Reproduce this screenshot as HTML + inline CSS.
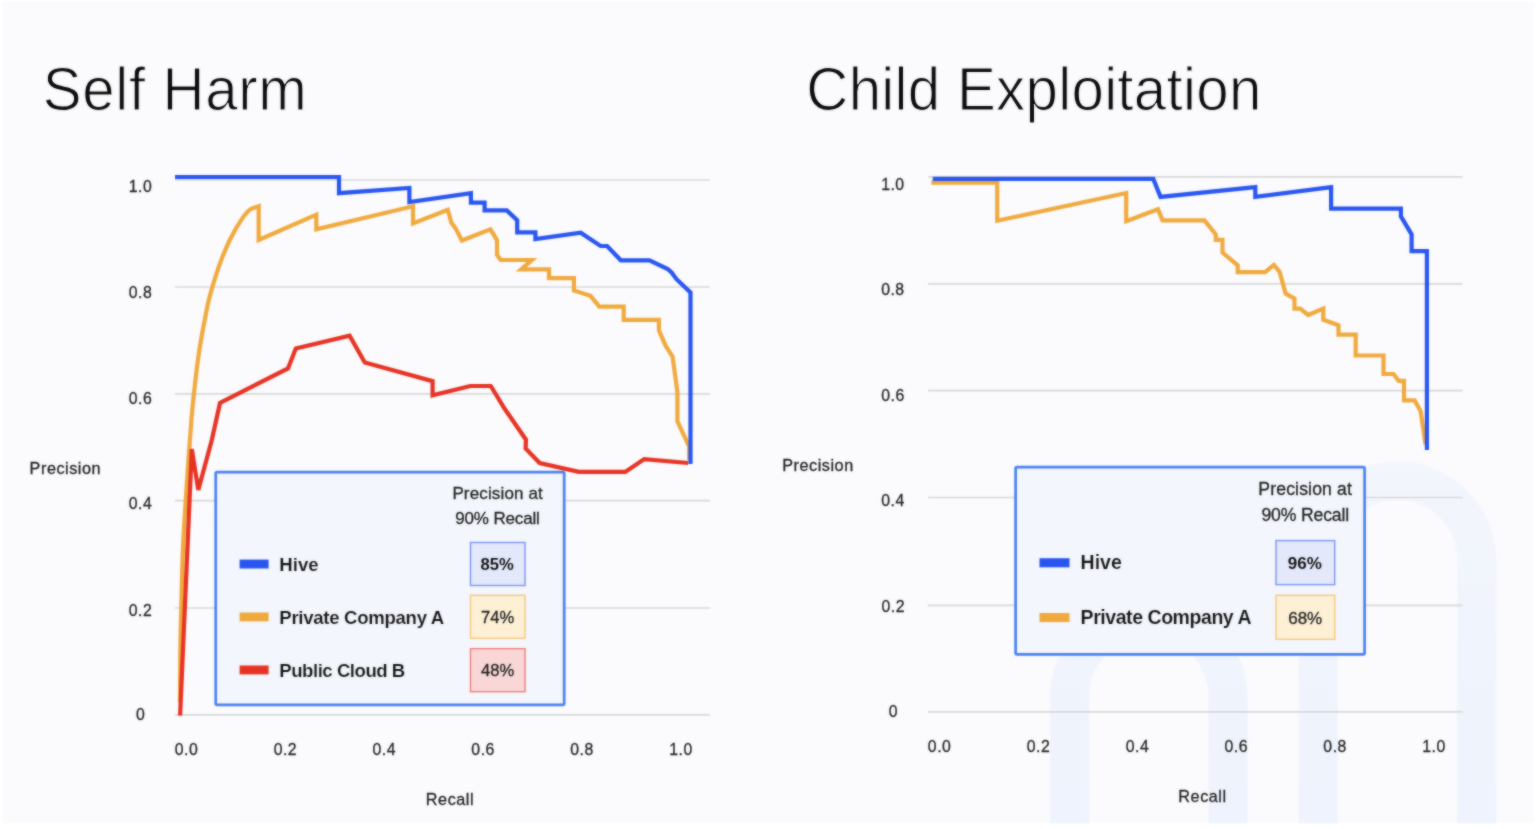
<!DOCTYPE html>
<html lang="en">
<head>
<meta charset="utf-8">
<title>Precision / Recall – Self Harm &amp; Child Exploitation</title>
<style>
  html, body { margin: 0; padding: 0; background: #ffffff; }
  body { width: 1536px; height: 829px; overflow: hidden; position: relative;
         font-family: "Liberation Sans", sans-serif; }
  svg { position: absolute; left: 0; top: 0; display: block; }
  text { font-family: "Liberation Sans", sans-serif; fill: #262626; }
  .title { font-size: 61px; fill: #0a0a0a; stroke: #fbfbfe; stroke-width: 1.1px; paint-order: fill stroke; }
  .ax { font-size: 15.8px; fill: #1e1e1e; stroke: #1e1e1e; stroke-width: 0.3px; letter-spacing: 0.5px; }
  .axl { font-size: 16.2px; fill: #1e1e1e; stroke: #1e1e1e; stroke-width: 0.3px; letter-spacing: 0.55px; }
  .hdr { font-size: 17px; fill: #1e1e1e; stroke: #1e1e1e; stroke-width: 0.3px; letter-spacing: 0.15px; }
  .name { font-size: 18.6px; font-weight: bold; fill: #111; stroke: #f3f6fc; stroke-width: 0.15px; paint-order: fill stroke; }
  .val { font-size: 16.6px; fill: #1e1e1e; stroke: #1e1e1e; stroke-width: 0.3px; }
  .valb { font-size: 16.6px; font-weight: bold; fill: #111; }
  .grid line { stroke: #d8d8d8; stroke-width: 1.7; }
  .ln { fill: none; stroke-width: 4.2; stroke-linejoin: miter; stroke-linecap: butt; }
  .blue { stroke: #2855f0; }
  .orange { stroke: #f0a93c; }
  .red { stroke: #e63222; }
</style>
</head>
<body>
<svg width="1536" height="829" viewBox="0 0 1536 829">
  <filter id="soft" x="0" y="0" width="1536" height="829" filterUnits="userSpaceOnUse" color-interpolation-filters="sRGB">
    <feGaussianBlur in="SourceGraphic" stdDeviation="0.8" result="b"/>
    <feComposite in="SourceGraphic" in2="b" operator="arithmetic" k1="0" k2="0.45" k3="0.55" k4="0"/>
  </filter>
  <g filter="url(#soft)">
  <!-- slide background -->
  <rect x="2" y="1" width="1532.5" height="822.3" fill="#fbfbfe"/>

  <!-- watermark arches -->
  <defs>
    <linearGradient id="archg" gradientUnits="userSpaceOnUse" x1="0" y1="460" x2="0" y2="829">
      <stop offset="0" stop-color="#f3f6fc"/>
      <stop offset="0.55" stop-color="#f0f4fc"/>
      <stop offset="1" stop-color="#eef3fd"/>
    </linearGradient>
  </defs>
  <g fill="none" stroke="url(#archg)" stroke-width="39">
    <path d="M1069.6 829 V697 A79.2 79.2 0 0 1 1228 697 V829"/>
    <path d="M1318.3 829 V560 A79.2 79.2 0 0 1 1476.7 560 V829"/>
  </g>
  <rect x="0" y="823.3" width="1536" height="6" fill="#ffffff"/>

  <!-- ============ LEFT CHART ============ -->
  <text class="title" transform="translate(42.8,109.9) scale(0.955,1)" x="0" y="0" textLength="276.5" lengthAdjust="spacing">Self Harm</text>

  <g class="grid">
    <line x1="175" x2="710" y1="180" y2="180"/>
    <line x1="175" x2="710" y1="287" y2="287"/>
    <line x1="175" x2="710" y1="393.8" y2="393.8"/>
    <line x1="175" x2="710" y1="500.6" y2="500.6"/>
    <line x1="175" x2="710" y1="608" y2="608"/>
    <line x1="175" x2="710" y1="714.8" y2="714.8"/>
  </g>

  <g class="ax" text-anchor="end">
    <text x="152.3" y="192.2">1.0</text>
    <text x="152.3" y="298.3">0.8</text>
    <text x="152.3" y="403.6">0.6</text>
    <text x="152.3" y="509.2">0.4</text>
    <text x="152.3" y="615.5">0.2</text>
    <text x="145.4" y="720.3">0</text>
  </g>
  <text class="axl" x="29.6" y="473.6">Precision</text>
  <g class="ax" text-anchor="middle">
    <text x="186.5" y="755.4">0.0</text>
    <text x="285.4" y="755.4">0.2</text>
    <text x="384.2" y="755.4">0.4</text>
    <text x="483.1" y="755.4">0.6</text>
    <text x="582" y="755.4">0.8</text>
    <text x="681" y="755.4">1.0</text>
  </g>
  <text class="axl" x="450" y="805" text-anchor="middle">Recall</text>

  <!-- orange: Private Company A -->
  <path class="ln orange" d="M180.0 702.0 C180.0 698.3 180.0 690.3 180.1 680.0 C180.2 669.7 180.3 652.2 180.5 640.0 C180.7 627.8 181.0 620.3 181.3 607.0 C181.6 593.7 182.0 574.5 182.5 560.0 C183.0 545.5 183.5 536.3 184.5 520.0 C185.5 503.7 187.2 478.7 188.3 462.0 C189.5 445.3 190.5 431.3 191.4 420.0 C192.3 408.7 192.8 404.3 193.9 394.0 C195.0 383.7 196.7 368.8 198.2 358.0 C199.7 347.2 201.2 338.7 203.0 329.0 C204.8 319.3 206.8 308.6 208.8 300.0 C210.9 291.4 213.1 284.4 215.3 277.3 C217.5 270.2 219.5 264.2 222.1 257.7 C224.7 251.2 227.4 244.7 230.7 238.2 C234.0 231.7 238.8 223.4 242.1 218.6 C245.4 213.8 247.5 211.4 250.3 209.4 C253.1 207.4 257.3 206.8 258.7 206.3
    L258.7 240 L316.3 214.7 L316.3 229.4 L413 206.3 L413 223.5 L447.8 209.8 L451.3 222.5 L455.6 228.4 L461.9 240.5 L490.4 229.4 L497 240.1 L497 254.8 L500.6 260 L531.9 260 L521.1 269.4 L549 269.4 L549 278.2 L573.9 278.2 L573.9 290.5 L590.5 295.8 L599.3 306.6 L623.7 306.6 L623.7 319.9 L658.9 319.9 L658.9 330.3 L665.7 345.9 L672.6 356.7 L677.4 391.9 L677.4 421.2 L689.2 446.6 L689.2 460"/>
  <!-- red: Public Cloud B -->
  <path class="ln red" d="M180.1 715.6 L191.8 449.2 L198.3 490 L211.8 440 L220 403 L288 368.4 L295.8 348.5 L349.6 335.6 L364.8 362.5 L432.6 381.1 L432.6 395.4 L470.3 386 L490.8 386 L504.5 408.5 L526 439.7 L525.6 448.4 L539.7 463 L578.8 471.9 L625.3 471.9 L644.2 459.1 L688.2 463"/>
  <!-- blue: Hive -->
  <path class="ln blue" d="M175 177 L339 177 L339 193.2 L409.4 188 L409.4 202 L470.9 193.2 L470.9 202.6 L484.6 202.6 L484.6 210.4 L506.8 210.4 L517.2 220.2 L517.2 232.3 L535.4 232.3 L535.4 239.1 L580.7 232.7 L600.6 246 L607.1 246 L620.8 260.3 L649.5 260.3 L667.7 269 L671.6 272.4 L676.5 279.2 L690.5 292.5 L690.5 464"/>

  <!-- legend left -->
  <rect x="215.7" y="472.2" width="348.5" height="232.6" rx="1.5" fill="#f3f6fc" stroke="#4880f0" stroke-width="2.7"/>
  <text class="hdr" x="497.7" y="499.3" text-anchor="middle">Precision at</text>
  <text class="hdr" x="497.5" y="524.3" text-anchor="middle" style="letter-spacing:-0.15px">90% Recall</text>

  <rect x="239.6" y="559.6" width="29" height="8.9" fill="#2855f0"/>
  <rect x="239.6" y="612.5" width="29" height="8.9" fill="#f0a93c"/>
  <rect x="239.6" y="665.5" width="29" height="8.9" fill="#e63222"/>
  <text class="name" x="279.3" y="571">Hive</text>
  <text class="name" x="279.3" y="623.6" textLength="165" lengthAdjust="spacing">Private Company A</text>
  <text class="name" x="279.3" y="676.6" textLength="126" lengthAdjust="spacing">Public Cloud B</text>

  <rect x="470.5" y="542.5" width="54.5" height="43" fill="#e3e8fb" stroke="#7b93f5" stroke-width="1.4"/>
  <rect x="470.5" y="595.3" width="54.5" height="43" fill="#fdf0d5" stroke="#f5c77e" stroke-width="1.4"/>
  <rect x="470.5" y="648.7" width="54.5" height="43" fill="#f9d7d7" stroke="#ef7d78" stroke-width="1.4"/>
  <text class="valb" x="497.2" y="570" text-anchor="middle">85%</text>
  <text class="val" x="497.6" y="623.2" text-anchor="middle">74%</text>
  <text class="val" x="497.6" y="675.7" text-anchor="middle">48%</text>

  <!-- ============ RIGHT CHART ============ -->
  <text class="title" transform="translate(806.3,110.2) scale(0.955,1)" x="0" y="0" textLength="476.5" lengthAdjust="spacing">Child Exploitation</text>

  <g class="grid">
    <line x1="928" x2="1462.5" y1="176.8" y2="176.8"/>
    <line x1="928" x2="1462.5" y1="283.9" y2="283.9"/>
    <line x1="928" x2="1462.5" y1="390.6" y2="390.6"/>
    <line x1="928" x2="1462.5" y1="497.5" y2="497.5"/>
    <line x1="928" x2="1462.5" y1="605.4" y2="605.4"/>
    <line x1="928" x2="1462.5" y1="711.8" y2="711.8"/>
  </g>

  <g class="ax" text-anchor="end">
    <text x="904.6" y="189.7">1.0</text>
    <text x="904.6" y="295">0.8</text>
    <text x="904.8" y="400.7">0.6</text>
    <text x="904.8" y="506.3">0.4</text>
    <text x="905" y="611.5">0.2</text>
    <text x="898" y="716.7">0</text>
  </g>
  <text class="axl" x="782.2" y="470.7">Precision</text>
  <g class="ax" text-anchor="middle">
    <text x="939.6" y="752.4">0.0</text>
    <text x="1038.5" y="752.4">0.2</text>
    <text x="1137.5" y="752.4">0.4</text>
    <text x="1236.2" y="752.4">0.6</text>
    <text x="1335.1" y="752.4">0.8</text>
    <text x="1434" y="752.4">1.0</text>
  </g>
  <text class="axl" x="1202.5" y="802" text-anchor="middle">Recall</text>

  <!-- orange -->
  <path class="ln orange" d="M931.3 182.6 L997.2 182.6 L997.2 220.7 L1126.2 193 L1126.2 221.3 L1158 209.2 L1162.5 220.4 L1204.5 220.4 L1215.8 234.4 L1215.8 239.9 L1222.5 239.9 L1222.5 252.6 L1237.7 265.3 L1237.7 272.1 L1265.1 272.1 L1273.9 264.9 L1279.7 272.1 L1285.6 293.6 L1294.5 298.6 L1294.5 308.6 L1300.2 308.6 L1308.2 315 L1323.3 308.6 L1323.3 319.7 L1338.5 325.2 L1338.5 334.6 L1355.7 334.6 L1355.7 355.5 L1383.5 355.5 L1383.5 374 L1393.6 374 L1398.7 380.9 L1404 380.9 L1404 400.4 L1414.7 400.4 L1420.6 411.2 L1425.5 444.4"/>
  <!-- blue -->
  <path class="ln blue" d="M932.7 178.9 L1153.3 178.9 L1160.5 196.9 L1255.3 187.1 L1255.3 196.9 L1331.1 187.1 L1331.1 208.6 L1400.9 208.6 L1400.9 216.4 L1411.6 234.4 L1411.6 251.2 L1426.9 251.2 L1426.9 450"/>

  <!-- legend right -->
  <rect x="1015.6" y="467.2" width="349" height="187.1" rx="1.5" fill="#f3f6fc" stroke="#4880f0" stroke-width="2.7"/>
  <text class="hdr" x="1305.2" y="495.3" text-anchor="middle" style="font-size:17.6px">Precision at</text>
  <text class="hdr" x="1305.2" y="520.7" text-anchor="middle" style="font-size:17.6px;letter-spacing:-0.15px">90% Recall</text>

  <rect x="1039.5" y="558.2" width="30" height="9.1" fill="#2855f0"/>
  <rect x="1039.5" y="613" width="30" height="9.1" fill="#f0a93c"/>
  <text class="name" x="1080.6" y="568.8" style="font-size:19.5px">Hive</text>
  <text class="name" x="1080.6" y="623.8" style="font-size:19.5px" textLength="171" lengthAdjust="spacing">Private Company A</text>

  <rect x="1276" y="540.6" width="58.7" height="44" fill="#e3e8fb" stroke="#7b93f5" stroke-width="1.4"/>
  <rect x="1276" y="595.3" width="58.7" height="44" fill="#fdf0d5" stroke="#f5c77e" stroke-width="1.4"/>
  <text class="valb" x="1304.8" y="568.6" text-anchor="middle" style="font-size:17px">96%</text>
  <text class="val" x="1305.2" y="623.5" text-anchor="middle" style="font-size:17px">68%</text>
</g>
</svg>
</body>
</html>
